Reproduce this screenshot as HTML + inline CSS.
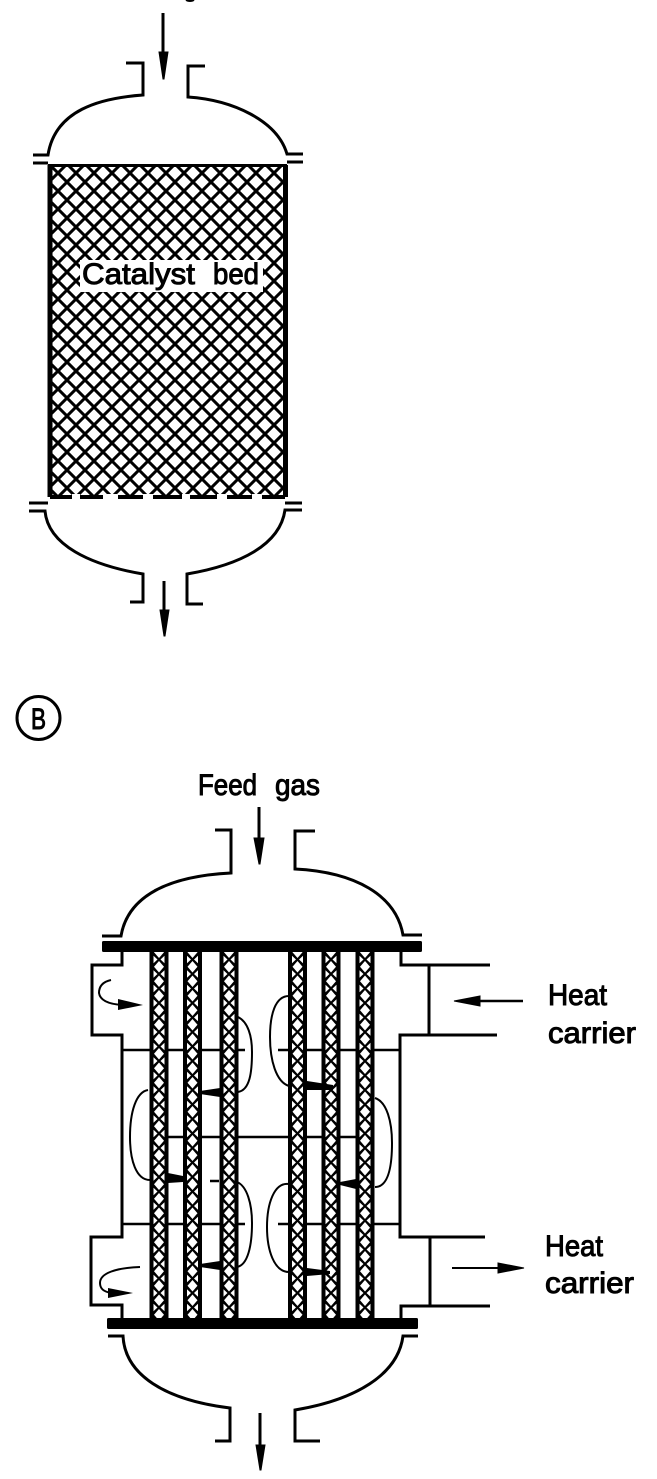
<!DOCTYPE html>
<html>
<head>
<meta charset="utf-8">
<style>
html,body{margin:0;padding:0;background:#fff;width:657px;height:1479px;overflow:hidden}
svg{display:block}
text{font-family:"Liberation Sans",sans-serif;font-size:30px;fill:#000;stroke:#000;stroke-width:1}
</style>
</head>
<body>
<svg width="657" height="1479" viewBox="0 0 657 1479" xmlns="http://www.w3.org/2000/svg">
<defs>
<pattern id="h" x="58" y="173" width="18" height="18" patternUnits="userSpaceOnUse">
<path d="M-2,-2L20,20M20,-2L-2,20M-2,16L2,20M16,-2L20,2M16,20L20,16M-2,2L2,-2" stroke="#000" stroke-width="3" fill="none"/>
</pattern>
<pattern id="t" x="0" y="945" width="19" height="14.500" patternUnits="userSpaceOnUse">
<rect width="19" height="14.500" fill="#000"/>
<path d="M9.500,1.500L14.500,7.250L9.500,13L4.500,7.250Z" fill="#fff"/>
<path d="M4,-3.800L8,0L4,3.800ZM15,-3.800L11,0L15,3.800ZM4,10.700L8,14.500L4,18.300ZM15,10.700L11,14.500L15,18.300Z" fill="#fff"/>
</pattern>
<g id="tube"><rect x="0" y="945" width="19" height="378" fill="url(#t)"/></g>
</defs>

<rect width="657" height="1479" fill="#fff"/>

<g fill="none" stroke="#000" stroke-width="3">
<!-- top-cut text remnant -->
<path d="M186,0Q190,2 194,0" stroke-width="2"/>

<!-- Reactor A -->
<path d="M126,63H143V95C100,98 55,110 48,155H33"/>
<path d="M205,66H188V97C232,100 277,120 287,154H303"/>
<path d="M33,163H48M287,162H303"/>
<path d="M29,503H48M302,503H285"/>
<path d="M29,511H45C48,545 90,565 143,574V602H130"/>
<path d="M302,510H285C280,545 240,565 187,574V604H203"/>
</g>

<rect x="48" y="165" width="239" height="332" fill="url(#h)"/>
<path d="M50,165V497M285.500,165V497" stroke="#000" stroke-width="5"/>
<path d="M48,165.500H287" stroke="#000" stroke-width="3"/>
<path d="M72,494h8v6h-8zM103,494h15v6h-15zM143,494h10v6h-10zM182,494h8v6h-8zM217,494h10v6h-10zM252,494h10v6h-10z" fill="#fff"/>
<path d="M50,497H72M80,497H103M118,497H143M153,497H182M190,497H217M227,497H252M262,497H285" stroke="#000" stroke-width="4"/>
<rect x="80" y="260" width="183" height="32" fill="#fff"/>
<text x="82" y="284" textLength="113" lengthAdjust="spacingAndGlyphs">Catalyst</text>
<text x="213" y="284" textLength="46" lengthAdjust="spacingAndGlyphs">bed</text>

<!-- arrows -->
<g stroke="#000" stroke-width="3" fill="#000">
<path d="M163,13V55"/><path d="M159,52H168L164,79H163Z" stroke-width="1"/>
<path d="M164,581V615"/><path d="M160,610H169L165,636H164Z" stroke-width="1"/>
<path d="M259,807V840"/><path d="M254,838H264L260,864H259Z" stroke-width="1"/>
<path d="M260,1413V1445"/><path d="M256,1445H265L261,1470H260Z" stroke-width="1"/>
<path d="M523,1001H470" stroke-width="2.500"/><path d="M454,1001L480,996V1006Z" stroke-width="1"/>
<path d="M452,1268H500" stroke-width="2"/><path d="M524,1268L498,1263V1273Z" stroke-width="1"/>
</g>

<!-- B label -->
<circle cx="38.500" cy="718" r="21.500" fill="none" stroke="#000" stroke-width="3"/>
<text x="31" y="729" textLength="15" lengthAdjust="spacingAndGlyphs">B</text>

<text x="198" y="795" textLength="59" lengthAdjust="spacingAndGlyphs">Feed</text>
<text x="275" y="795" textLength="45" lengthAdjust="spacingAndGlyphs">gas</text>
<text x="548" y="1005" textLength="59" lengthAdjust="spacingAndGlyphs">Heat</text>
<text x="548" y="1043" textLength="88" lengthAdjust="spacingAndGlyphs">carrier</text>
<text x="545" y="1256" textLength="58" lengthAdjust="spacingAndGlyphs">Heat</text>
<text x="545" y="1293" textLength="89" lengthAdjust="spacingAndGlyphs">carrier</text>

<!-- Reactor B head -->
<g fill="none" stroke="#000" stroke-width="3">
<path d="M215,830H231V873C170,876 128,895 121,936H102"/>
<path d="M315,831H295V869C355,872 396,895 403,935H422"/>
<path d="M108,1336H123C125,1375 165,1400 230,1408V1441H215"/>
<path d="M418,1336H403C398,1375 355,1400 295,1410V1441H320"/>

<!-- shell left -->
<path d="M122,952V965H92V1035H122V1237H91V1305H122V1318"/>
<!-- shell right -->
<path d="M401,952V965H490M429,965V1035M497,1035H400V1237H485M430,1237V1305M490,1306H401V1318"/>

<!-- baffles -->
<path d="M122,1050H245M278,1050H400M168,1137H356M122,1224H245M278,1224H400M210,1181H219" stroke-width="2.500"/>
</g>

<!-- tubes -->
<use href="#tube" transform="translate(149.500,0)"/>
<use href="#tube" transform="translate(183,0)"/>
<use href="#tube" transform="translate(219.500,0)"/>
<use href="#tube" transform="translate(288,0)"/>
<use href="#tube" transform="translate(321.500,0)"/>
<use href="#tube" transform="translate(355.500,0)"/>

<rect x="102" y="941" width="320" height="11" rx="1.500" fill="#000"/>
<rect x="107" y="1318" width="311" height="11" rx="1.500" fill="#000"/>

<!-- flow curves -->
<g fill="none" stroke="#000" stroke-width="2">
<path d="M238,1017C248,1022 252,1036 252,1052C252,1072 250,1090 238,1092"/>
<path d="M289,996C275,996 270,1015 270,1037C270,1060 276,1082 289,1086"/>
<path d="M375,1098C387,1102 392,1122 392,1143C392,1168 388,1187 375,1187"/>
<path d="M148,1090C136,1092 130,1112 130,1137C130,1160 136,1180 150,1180"/>
<path d="M237,1182C247,1186 252,1204 252,1223C252,1245 248,1265 237,1267"/>
<path d="M289,1184C274,1182 267,1204 267,1227C267,1250 274,1272 289,1272"/>
<path d="M111,980C102,982 99,987 99,993C100,1000 108,1004 122,1005"/>
<path d="M140,1267C116,1268 100,1273 100,1283C100,1289 104,1292 112,1293"/>
</g>

<!-- wedges -->
<g fill="#000" stroke="none">
<path d="M143,1005L118,999V1010Z"/>
<path d="M133,1293L108,1288V1298Z"/>
<path d="M220,1088V1097L200,1094V1091Z"/>
<path d="M307,1081L333,1085V1090L307,1090Z"/>
<path d="M356,1179V1189L340,1185V1182Z"/>
<path d="M168,1173L183,1176V1182L168,1183Z"/>
<path d="M220,1261V1270L200,1267V1264Z"/>
<path d="M307,1268L330,1271V1274L307,1276Z"/>
</g>
</svg>
</body>
</html>
